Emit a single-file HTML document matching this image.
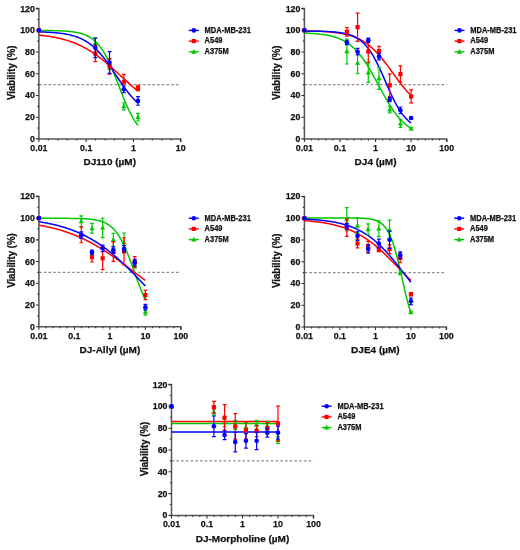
<!DOCTYPE html>
<html><head><meta charset="utf-8"><style>
html,body{margin:0;padding:0;background:#fff;}
body{width:520px;height:550px;overflow:hidden;}
svg{display:block;filter:blur(0.35px);}
text{font-family:"Liberation Sans",sans-serif;font-weight:bold;fill:#111;stroke:#111;stroke-width:0.25px;}
.tk{font-size:9.5px;}
.tt{font-size:10px;}
.xt{font-size:9.8px;}
.lg{font-size:8.6px;}
</style></head><body>
<svg width="520" height="550" viewBox="0 0 520 550">
<rect width="520" height="550" fill="#fff"/>
<line x1="39.10" y1="84.61" x2="180.70" y2="84.61" stroke="#8a8a8a" stroke-width="1.3" stroke-dasharray="2.6,2.12"/>
<path d="M35.90,8.60H38.90V138.90H180.70V141.90" fill="none" stroke="#555" stroke-width="1.5"/>
<path d="M35.90,138.90H38.90M37.30,128.04H38.90M35.90,117.18H38.90M37.30,106.33H38.90M35.90,95.47H38.90M37.30,84.61H38.90M35.90,73.75H38.90M37.30,62.89H38.90M35.90,52.03H38.90M37.30,41.17H38.90M35.90,30.32H38.90M37.30,19.46H38.90M35.90,8.60H38.90M38.90,138.90V141.90M48.35,138.90V140.50M57.81,138.90V140.50M67.26,138.90V140.50M76.71,138.90V140.50M86.17,138.90V141.90M95.62,138.90V140.50M105.07,138.90V140.50M114.53,138.90V140.50M123.98,138.90V140.50M133.43,138.90V141.90M142.89,138.90V140.50M152.34,138.90V140.50M161.79,138.90V140.50M171.25,138.90V140.50M180.70,138.90V141.90" fill="none" stroke="#333333" stroke-width="1.1"/>
<text x="34.90" y="141.85" text-anchor="end" class="tk" textLength="4.91" lengthAdjust="spacingAndGlyphs">0</text>
<text x="34.90" y="120.13" text-anchor="end" class="tk" textLength="9.83" lengthAdjust="spacingAndGlyphs">20</text>
<text x="34.90" y="98.42" text-anchor="end" class="tk" textLength="9.83" lengthAdjust="spacingAndGlyphs">40</text>
<text x="34.90" y="76.70" text-anchor="end" class="tk" textLength="9.83" lengthAdjust="spacingAndGlyphs">60</text>
<text x="34.90" y="54.98" text-anchor="end" class="tk" textLength="9.83" lengthAdjust="spacingAndGlyphs">80</text>
<text x="34.90" y="33.27" text-anchor="end" class="tk" textLength="14.74" lengthAdjust="spacingAndGlyphs">100</text>
<text x="34.90" y="11.55" text-anchor="end" class="tk" textLength="14.74" lengthAdjust="spacingAndGlyphs">120</text>
<text x="38.90" y="150.80" text-anchor="middle" class="tk" textLength="17.19" lengthAdjust="spacingAndGlyphs">0.01</text>
<text x="86.17" y="150.80" text-anchor="middle" class="tk" textLength="12.28" lengthAdjust="spacingAndGlyphs">0.1</text>
<text x="133.43" y="150.80" text-anchor="middle" class="tk" textLength="4.91" lengthAdjust="spacingAndGlyphs">1</text>
<text x="180.70" y="150.80" text-anchor="middle" class="tk" textLength="9.83" lengthAdjust="spacingAndGlyphs">10</text>
<text x="109.80" y="165.30" text-anchor="middle" class="xt" textLength="52.44" lengthAdjust="spacingAndGlyphs">DJ110 (µM)</text>
<text transform="translate(14.90,72.75) rotate(-90)" x="0" y="0" text-anchor="middle" class="tt" textLength="54.6" lengthAdjust="spacingAndGlyphs">Viability (%)</text>
<polyline points="38.90,30.45 39.73,30.46 40.55,30.46 41.38,30.47 42.20,30.48 43.03,30.48 43.86,30.49 44.68,30.50 45.51,30.51 46.33,30.52 47.16,30.53 47.99,30.54 48.81,30.55 49.64,30.56 50.46,30.57 51.29,30.59 52.12,30.61 52.94,30.62 53.77,30.64 54.59,30.66 55.42,30.68 56.24,30.71 57.07,30.73 57.90,30.76 58.72,30.79 59.55,30.82 60.37,30.85 61.20,30.89 62.03,30.93 62.85,30.97 63.68,31.02 64.50,31.07 65.33,31.12 66.16,31.18 66.98,31.24 67.81,31.31 68.63,31.38 69.46,31.46 70.29,31.55 71.11,31.64 71.94,31.74 72.76,31.85 73.59,31.96 74.42,32.09 75.24,32.22 76.07,32.37 76.89,32.52 77.72,32.69 78.55,32.87 79.37,33.07 80.20,33.28 81.02,33.50 81.85,33.74 82.68,34.01 83.50,34.29 84.33,34.59 85.15,34.91 85.98,35.26 86.81,35.63 87.63,36.03 88.46,36.46 89.28,36.93 90.11,37.42 90.93,37.95 91.76,38.51 92.59,39.11 93.41,39.76 94.24,40.44 95.06,41.17 95.89,41.95 96.72,42.78 97.54,43.66 98.37,44.59 99.19,45.58 100.02,46.62 100.85,47.72 101.67,48.89 102.50,50.11 103.32,51.40 104.15,52.75 104.98,54.17 105.80,55.65 106.63,57.19 107.45,58.80 108.28,60.46 109.11,62.19 109.93,63.98 110.76,65.82 111.58,67.71 112.41,69.65 113.24,71.64 114.06,73.67 114.89,75.73 115.71,77.82 116.54,79.93 117.37,82.06 118.19,84.20 119.02,86.35 119.84,88.49 120.67,90.63 121.49,92.75 122.32,94.85 123.15,96.93 123.97,98.97 124.80,100.97 125.62,102.94 126.45,104.85 127.28,106.72 128.10,108.53 128.93,110.29 129.75,111.98 130.58,113.62 131.41,115.19 132.23,116.70 133.06,118.15 133.88,119.53 134.71,120.85 135.54,122.10 136.36,123.29 137.19,124.43 138.01,125.50" fill="none" stroke="#00c800" stroke-width="1.5"/>
<polyline points="38.90,35.10 39.73,35.19 40.55,35.28 41.38,35.37 42.20,35.46 43.03,35.56 43.86,35.67 44.68,35.77 45.51,35.88 46.33,35.99 47.16,36.11 47.99,36.23 48.81,36.35 49.64,36.48 50.46,36.62 51.29,36.75 52.12,36.90 52.94,37.04 53.77,37.19 54.59,37.35 55.42,37.51 56.24,37.68 57.07,37.85 57.90,38.03 58.72,38.21 59.55,38.40 60.37,38.59 61.20,38.79 62.03,39.00 62.85,39.21 63.68,39.43 64.50,39.66 65.33,39.90 66.16,40.14 66.98,40.38 67.81,40.64 68.63,40.90 69.46,41.17 70.29,41.45 71.11,41.74 71.94,42.03 72.76,42.34 73.59,42.65 74.42,42.97 75.24,43.30 76.07,43.64 76.89,43.98 77.72,44.34 78.55,44.71 79.37,45.08 80.20,45.47 81.02,45.86 81.85,46.27 82.68,46.68 83.50,47.11 84.33,47.54 85.15,47.99 85.98,48.45 86.81,48.91 87.63,49.39 88.46,49.88 89.28,50.38 90.11,50.88 90.93,51.40 91.76,51.93 92.59,52.47 93.41,53.02 94.24,53.59 95.06,54.16 95.89,54.74 96.72,55.33 97.54,55.93 98.37,56.54 99.19,57.17 100.02,57.80 100.85,58.44 101.67,59.09 102.50,59.75 103.32,60.41 104.15,61.09 104.98,61.77 105.80,62.47 106.63,63.17 107.45,63.87 108.28,64.59 109.11,65.31 109.93,66.03 110.76,66.77 111.58,67.50 112.41,68.25 113.24,68.99 114.06,69.74 114.89,70.50 115.71,71.25 116.54,72.01 117.37,72.78 118.19,73.54 119.02,74.31 119.84,75.07 120.67,75.84 121.49,76.60 122.32,77.37 123.15,78.13 123.97,78.89 124.80,79.65 125.62,80.41 126.45,81.17 127.28,81.92 128.10,82.66 128.93,83.40 129.75,84.14 130.58,84.87 131.41,85.60 132.23,86.32 133.06,87.03 133.88,87.74 134.71,88.44 135.54,89.13 136.36,89.81 137.19,90.48 138.01,91.15" fill="none" stroke="#ff0000" stroke-width="1.5"/>
<polyline points="38.90,31.84 39.73,31.87 40.55,31.89 41.38,31.92 42.20,31.95 43.03,31.98 43.86,32.01 44.68,32.05 45.51,32.09 46.33,32.13 47.16,32.17 47.99,32.21 48.81,32.26 49.64,32.31 50.46,32.36 51.29,32.41 52.12,32.47 52.94,32.53 53.77,32.60 54.59,32.67 55.42,32.74 56.24,32.82 57.07,32.90 57.90,32.98 58.72,33.07 59.55,33.17 60.37,33.27 61.20,33.38 62.03,33.49 62.85,33.61 63.68,33.73 64.50,33.86 65.33,34.00 66.16,34.15 66.98,34.31 67.81,34.47 68.63,34.64 69.46,34.83 70.29,35.02 71.11,35.22 71.94,35.43 72.76,35.66 73.59,35.89 74.42,36.14 75.24,36.40 76.07,36.68 76.89,36.97 77.72,37.27 78.55,37.59 79.37,37.92 80.20,38.28 81.02,38.65 81.85,39.03 82.68,39.44 83.50,39.86 84.33,40.31 85.15,40.77 85.98,41.26 86.81,41.77 87.63,42.30 88.46,42.86 89.28,43.43 90.11,44.04 90.93,44.66 91.76,45.32 92.59,46.00 93.41,46.70 94.24,47.43 95.06,48.19 95.89,48.98 96.72,49.79 97.54,50.63 98.37,51.50 99.19,52.39 100.02,53.31 100.85,54.26 101.67,55.23 102.50,56.23 103.32,57.26 104.15,58.31 104.98,59.38 105.80,60.47 106.63,61.59 107.45,62.72 108.28,63.87 109.11,65.04 109.93,66.23 110.76,67.43 111.58,68.64 112.41,69.86 113.24,71.09 114.06,72.32 114.89,73.57 115.71,74.81 116.54,76.05 117.37,77.29 118.19,78.53 119.02,79.76 119.84,80.99 120.67,82.20 121.49,83.41 122.32,84.60 123.15,85.77 123.97,86.94 124.80,88.08 125.62,89.20 126.45,90.30 127.28,91.38 128.10,92.44 128.93,93.48 129.75,94.49 130.58,95.47 131.41,96.43 132.23,97.36 133.06,98.27 133.88,99.15 134.71,100.00 135.54,100.82 136.36,101.62 137.19,102.39 138.01,103.13" fill="none" stroke="#0000ff" stroke-width="1.5"/>
<path d="M38.90,27.56L41.50,32.16L36.30,32.16Z" fill="#00c800"/>
<path d="M95.33,37.92V48.78M93.43,37.92h3.8M93.43,48.78h3.8" stroke="#00c800" stroke-width="1.2" fill="none"/>
<path d="M95.33,40.59L97.93,45.19L92.73,45.19Z" fill="#00c800"/>
<path d="M109.56,58.55V69.41M107.66,58.55h3.8M107.66,69.41h3.8" stroke="#00c800" stroke-width="1.2" fill="none"/>
<path d="M109.56,61.22L112.16,65.82L106.96,65.82Z" fill="#00c800"/>
<path d="M123.79,102.74V109.91M121.89,102.74h3.8M121.89,109.91h3.8" stroke="#00c800" stroke-width="1.2" fill="none"/>
<path d="M123.79,103.56L126.39,108.17L121.19,108.17Z" fill="#00c800"/>
<path d="M138.01,113.38V120.98M136.11,113.38h3.8M136.11,120.98h3.8" stroke="#00c800" stroke-width="1.2" fill="none"/>
<path d="M138.01,114.42L140.61,119.02L135.41,119.02Z" fill="#00c800"/>
<rect x="36.80" y="28.22" width="4.2" height="4.2" fill="#ff0000"/>
<path d="M95.33,45.41V61.70M93.43,45.41h3.8M93.43,61.70h3.8" stroke="#ff0000" stroke-width="1.2" fill="none"/>
<rect x="93.23" y="51.45" width="4.2" height="4.2" fill="#ff0000"/>
<path d="M109.56,58.87V74.08M107.66,58.87h3.8M107.66,74.08h3.8" stroke="#ff0000" stroke-width="1.2" fill="none"/>
<rect x="107.46" y="64.37" width="4.2" height="4.2" fill="#ff0000"/>
<path d="M123.79,74.29V89.49M121.89,74.29h3.8M121.89,89.49h3.8" stroke="#ff0000" stroke-width="1.2" fill="none"/>
<rect x="121.69" y="79.79" width="4.2" height="4.2" fill="#ff0000"/>
<path d="M138.01,85.26V90.69M136.11,85.26h3.8M136.11,90.69h3.8" stroke="#ff0000" stroke-width="1.2" fill="none"/>
<rect x="135.91" y="85.87" width="4.2" height="4.2" fill="#ff0000"/>
<circle cx="38.90" cy="30.32" r="2.3" fill="#0000ff"/>
<path d="M95.33,38.03V57.57M93.43,38.03h3.8M93.43,57.57h3.8" stroke="#0000ff" stroke-width="1.2" fill="none"/>
<circle cx="95.33" cy="47.80" r="2.3" fill="#0000ff"/>
<path d="M109.56,51.60V73.32M107.66,51.60h3.8M107.66,73.32h3.8" stroke="#0000ff" stroke-width="1.2" fill="none"/>
<circle cx="109.56" cy="62.46" r="2.3" fill="#0000ff"/>
<path d="M123.79,86.02V92.53M121.89,86.02h3.8M121.89,92.53h3.8" stroke="#0000ff" stroke-width="1.2" fill="none"/>
<circle cx="123.79" cy="89.28" r="2.3" fill="#0000ff"/>
<path d="M138.01,96.55V105.24M136.11,96.55h3.8M136.11,105.24h3.8" stroke="#0000ff" stroke-width="1.2" fill="none"/>
<circle cx="138.01" cy="100.90" r="2.3" fill="#0000ff"/>
<line x1="188.80" y1="30.40" x2="198.80" y2="30.40" stroke="#0000ff" stroke-width="1.4"/>
<circle cx="193.80" cy="30.40" r="2.3" fill="#0000ff"/>
<text x="204.60" y="32.70" class="lg" textLength="46.2" lengthAdjust="spacingAndGlyphs">MDA-MB-231</text>
<line x1="188.80" y1="41.10" x2="198.80" y2="41.10" stroke="#ff0000" stroke-width="1.4"/>
<rect x="191.70" y="39.00" width="4.2" height="4.2" fill="#ff0000"/>
<text x="204.60" y="43.40" class="lg" textLength="17.9" lengthAdjust="spacingAndGlyphs">A549</text>
<line x1="188.80" y1="51.80" x2="198.80" y2="51.80" stroke="#00c800" stroke-width="1.4"/>
<path d="M193.80,49.04L196.40,53.64L191.20,53.64Z" fill="#00c800"/>
<text x="204.60" y="54.10" class="lg" textLength="24.1" lengthAdjust="spacingAndGlyphs">A375M</text>
<line x1="304.60" y1="84.61" x2="446.70" y2="84.61" stroke="#8a8a8a" stroke-width="1.3" stroke-dasharray="2.6,2.12"/>
<path d="M301.40,8.60H304.40V138.90H446.70V141.90" fill="none" stroke="#555" stroke-width="1.5"/>
<path d="M301.40,138.90H304.40M302.80,128.04H304.40M301.40,117.18H304.40M302.80,106.33H304.40M301.40,95.47H304.40M302.80,84.61H304.40M301.40,73.75H304.40M302.80,62.89H304.40M301.40,52.03H304.40M302.80,41.17H304.40M301.40,30.32H304.40M302.80,19.46H304.40M301.40,8.60H304.40M304.40,138.90V141.90M311.51,138.90V140.50M318.63,138.90V140.50M325.75,138.90V140.50M332.86,138.90V140.50M339.97,138.90V141.90M347.09,138.90V140.50M354.20,138.90V140.50M361.32,138.90V140.50M368.43,138.90V140.50M375.55,138.90V141.90M382.66,138.90V140.50M389.78,138.90V140.50M396.89,138.90V140.50M404.01,138.90V140.50M411.12,138.90V141.90M418.24,138.90V140.50M425.36,138.90V140.50M432.47,138.90V140.50M439.58,138.90V140.50M446.70,138.90V141.90" fill="none" stroke="#333333" stroke-width="1.1"/>
<text x="300.40" y="141.85" text-anchor="end" class="tk" textLength="4.91" lengthAdjust="spacingAndGlyphs">0</text>
<text x="300.40" y="120.13" text-anchor="end" class="tk" textLength="9.83" lengthAdjust="spacingAndGlyphs">20</text>
<text x="300.40" y="98.42" text-anchor="end" class="tk" textLength="9.83" lengthAdjust="spacingAndGlyphs">40</text>
<text x="300.40" y="76.70" text-anchor="end" class="tk" textLength="9.83" lengthAdjust="spacingAndGlyphs">60</text>
<text x="300.40" y="54.98" text-anchor="end" class="tk" textLength="9.83" lengthAdjust="spacingAndGlyphs">80</text>
<text x="300.40" y="33.27" text-anchor="end" class="tk" textLength="14.74" lengthAdjust="spacingAndGlyphs">100</text>
<text x="300.40" y="11.55" text-anchor="end" class="tk" textLength="14.74" lengthAdjust="spacingAndGlyphs">120</text>
<text x="304.40" y="150.80" text-anchor="middle" class="tk" textLength="17.19" lengthAdjust="spacingAndGlyphs">0.01</text>
<text x="339.97" y="150.80" text-anchor="middle" class="tk" textLength="12.28" lengthAdjust="spacingAndGlyphs">0.1</text>
<text x="375.55" y="150.80" text-anchor="middle" class="tk" textLength="4.91" lengthAdjust="spacingAndGlyphs">1</text>
<text x="411.12" y="150.80" text-anchor="middle" class="tk" textLength="9.83" lengthAdjust="spacingAndGlyphs">10</text>
<text x="446.70" y="150.80" text-anchor="middle" class="tk" textLength="14.74" lengthAdjust="spacingAndGlyphs">100</text>
<text x="375.55" y="165.30" text-anchor="middle" class="xt" textLength="41.87" lengthAdjust="spacingAndGlyphs">DJ4 (µM)</text>
<text transform="translate(280.40,72.75) rotate(-90)" x="0" y="0" text-anchor="middle" class="tt" textLength="54.6" lengthAdjust="spacingAndGlyphs">Viability (%)</text>
<polyline points="304.40,33.04 305.29,33.08 306.18,33.12 307.07,33.16 307.96,33.20 308.85,33.25 309.74,33.30 310.63,33.35 311.51,33.40 312.40,33.46 313.29,33.52 314.18,33.59 315.07,33.66 315.96,33.73 316.85,33.81 317.74,33.90 318.63,33.99 319.52,34.08 320.41,34.18 321.30,34.29 322.19,34.41 323.08,34.53 323.97,34.66 324.86,34.80 325.75,34.94 326.63,35.10 327.52,35.26 328.41,35.44 329.30,35.62 330.19,35.82 331.08,36.03 331.97,36.25 332.86,36.49 333.75,36.73 334.64,37.00 335.53,37.28 336.42,37.57 337.31,37.89 338.20,38.22 339.09,38.57 339.97,38.94 340.86,39.33 341.75,39.75 342.64,40.18 343.53,40.64 344.42,41.13 345.31,41.64 346.20,42.18 347.09,42.75 347.98,43.35 348.87,43.98 349.76,44.64 350.65,45.33 351.54,46.06 352.43,46.82 353.32,47.62 354.20,48.45 355.09,49.32 355.98,50.23 356.87,51.18 357.76,52.17 358.65,53.20 359.54,54.27 360.43,55.37 361.32,56.52 362.21,57.71 363.10,58.94 363.99,60.21 364.88,61.51 365.77,62.85 366.66,64.23 367.55,65.65 368.44,67.10 369.32,68.57 370.21,70.08 371.10,71.62 371.99,73.18 372.88,74.77 373.77,76.37 374.66,77.99 375.55,79.63 376.44,81.27 377.33,82.93 378.22,84.59 379.11,86.24 380.00,87.90 380.89,89.55 381.78,91.20 382.66,92.83 383.55,94.45 384.44,96.05 385.33,97.63 386.22,99.18 387.11,100.71 388.00,102.21 388.89,103.69 389.78,105.13 390.67,106.53 391.56,107.90 392.45,109.24 393.34,110.53 394.23,111.79 395.12,113.01 396.01,114.19 396.89,115.32 397.78,116.42 398.67,117.48 399.56,118.50 400.45,119.48 401.34,120.42 402.23,121.32 403.12,122.18 404.01,123.00 404.90,123.79 405.79,124.55 406.68,125.26 407.57,125.95 408.46,126.60 409.35,127.22 410.24,127.81 411.12,128.37" fill="none" stroke="#00c800" stroke-width="1.5"/>
<polyline points="304.40,30.83 305.29,30.85 306.18,30.87 307.07,30.88 307.96,30.90 308.85,30.92 309.74,30.94 310.63,30.97 311.51,30.99 312.40,31.01 313.29,31.04 314.18,31.07 315.07,31.10 315.96,31.13 316.85,31.16 317.74,31.20 318.63,31.23 319.52,31.27 320.41,31.31 321.30,31.36 322.19,31.41 323.08,31.45 323.97,31.51 324.86,31.56 325.75,31.62 326.63,31.68 327.52,31.75 328.41,31.82 329.30,31.89 330.19,31.97 331.08,32.05 331.97,32.14 332.86,32.23 333.75,32.33 334.64,32.43 335.53,32.54 336.42,32.65 337.31,32.77 338.20,32.90 339.09,33.04 339.97,33.18 340.86,33.33 341.75,33.49 342.64,33.66 343.53,33.84 344.42,34.02 345.31,34.22 346.20,34.43 347.09,34.65 347.98,34.88 348.87,35.12 349.76,35.38 350.65,35.65 351.54,35.94 352.43,36.24 353.32,36.55 354.20,36.88 355.09,37.23 355.98,37.59 356.87,37.98 357.76,38.38 358.65,38.80 359.54,39.24 360.43,39.71 361.32,40.19 362.21,40.70 363.10,41.23 363.99,41.78 364.88,42.36 365.77,42.96 366.66,43.59 367.55,44.24 368.44,44.92 369.32,45.62 370.21,46.36 371.10,47.12 371.99,47.90 372.88,48.72 373.77,49.56 374.66,50.43 375.55,51.33 376.44,52.25 377.33,53.20 378.22,54.18 379.11,55.18 380.00,56.20 380.89,57.25 381.78,58.33 382.66,59.42 383.55,60.53 384.44,61.67 385.33,62.82 386.22,63.99 387.11,65.17 388.00,66.36 388.89,67.57 389.78,68.78 390.67,70.00 391.56,71.23 392.45,72.45 393.34,73.68 394.23,74.91 395.12,76.13 396.01,77.35 396.89,78.56 397.78,79.77 398.67,80.96 399.56,82.13 400.45,83.30 401.34,84.44 402.23,85.57 403.12,86.68 404.01,87.76 404.90,88.83 405.79,89.87 406.68,90.89 407.57,91.88 408.46,92.85 409.35,93.79 410.24,94.71 411.12,95.59" fill="none" stroke="#ff0000" stroke-width="1.5"/>
<polyline points="304.40,31.12 305.29,31.12 306.18,31.13 307.07,31.13 307.96,31.14 308.85,31.15 309.74,31.15 310.63,31.16 311.51,31.17 312.40,31.18 313.29,31.19 314.18,31.20 315.07,31.22 315.96,31.23 316.85,31.25 317.74,31.26 318.63,31.28 319.52,31.30 320.41,31.32 321.30,31.34 322.19,31.37 323.08,31.39 323.97,31.42 324.86,31.45 325.75,31.49 326.63,31.52 327.52,31.56 328.41,31.60 329.30,31.65 330.19,31.70 331.08,31.75 331.97,31.81 332.86,31.88 333.75,31.95 334.64,32.02 335.53,32.10 336.42,32.19 337.31,32.29 338.20,32.39 339.09,32.50 339.97,32.62 340.86,32.75 341.75,32.89 342.64,33.04 343.53,33.21 344.42,33.39 345.31,33.58 346.20,33.79 347.09,34.01 347.98,34.25 348.87,34.51 349.76,34.80 350.65,35.10 351.54,35.43 352.43,35.78 353.32,36.16 354.20,36.57 355.09,37.01 355.98,37.48 356.87,37.98 357.76,38.53 358.65,39.11 359.54,39.73 360.43,40.40 361.32,41.11 362.21,41.87 363.10,42.68 363.99,43.54 364.88,44.46 365.77,45.43 366.66,46.46 367.55,47.55 368.44,48.70 369.32,49.91 370.21,51.19 371.10,52.53 371.99,53.93 372.88,55.40 373.77,56.93 374.66,58.52 375.55,60.17 376.44,61.88 377.33,63.65 378.22,65.46 379.11,67.32 380.00,69.23 380.89,71.17 381.78,73.15 382.66,75.15 383.55,77.17 384.44,79.21 385.33,81.25 386.22,83.29 387.11,85.33 388.00,87.36 388.89,89.36 389.78,91.34 390.67,93.29 391.56,95.20 392.45,97.07 393.34,98.90 394.23,100.67 395.12,102.39 396.01,104.05 396.89,105.65 397.78,107.19 398.67,108.67 399.56,110.08 400.45,111.43 401.34,112.72 402.23,113.94 403.12,115.10 404.01,116.20 404.90,117.24 405.79,118.22 406.68,119.15 407.57,120.02 408.46,120.84 409.35,121.60 410.24,122.32 411.12,122.99" fill="none" stroke="#0000ff" stroke-width="1.5"/>
<path d="M304.40,27.56L307.00,32.16L301.80,32.16Z" fill="#00c800"/>
<path d="M346.87,39.00V63.98M344.97,39.00h3.8M344.97,63.98h3.8" stroke="#00c800" stroke-width="1.2" fill="none"/>
<path d="M346.87,48.73L349.47,53.33L344.27,53.33Z" fill="#00c800"/>
<path d="M357.58,52.03V73.75M355.68,52.03h3.8M355.68,73.75h3.8" stroke="#00c800" stroke-width="1.2" fill="none"/>
<path d="M357.58,60.13L360.18,64.73L354.98,64.73Z" fill="#00c800"/>
<path d="M368.29,62.89V82.44M366.39,62.89h3.8M366.39,82.44h3.8" stroke="#00c800" stroke-width="1.2" fill="none"/>
<path d="M368.29,69.90L370.89,74.50L365.69,74.50Z" fill="#00c800"/>
<path d="M379.00,67.56V89.28M377.10,67.56h3.8M377.10,89.28h3.8" stroke="#00c800" stroke-width="1.2" fill="none"/>
<path d="M379.00,75.66L381.60,80.26L376.40,80.26Z" fill="#00c800"/>
<path d="M389.71,106.33V112.84M387.81,106.33h3.8M387.81,112.84h3.8" stroke="#00c800" stroke-width="1.2" fill="none"/>
<path d="M389.71,106.82L392.31,111.42L387.11,111.42Z" fill="#00c800"/>
<path d="M400.42,119.90V127.50M398.52,119.90h3.8M398.52,127.50h3.8" stroke="#00c800" stroke-width="1.2" fill="none"/>
<path d="M400.42,120.94L403.02,125.54L397.82,125.54Z" fill="#00c800"/>
<path d="M411.12,127.50V129.67M409.23,127.50h3.8M409.23,129.67h3.8" stroke="#00c800" stroke-width="1.2" fill="none"/>
<path d="M411.12,125.82L413.73,130.42L408.52,130.42Z" fill="#00c800"/>
<rect x="302.30" y="28.22" width="4.2" height="4.2" fill="#ff0000"/>
<path d="M346.87,27.49V36.18M344.97,27.49h3.8M344.97,36.18h3.8" stroke="#ff0000" stroke-width="1.2" fill="none"/>
<rect x="344.77" y="29.74" width="4.2" height="4.2" fill="#ff0000"/>
<path d="M357.58,13.05V41.28M355.68,13.05h3.8M355.68,41.28h3.8" stroke="#ff0000" stroke-width="1.2" fill="none"/>
<rect x="355.48" y="25.07" width="4.2" height="4.2" fill="#ff0000"/>
<path d="M368.29,40.63V62.35M366.39,40.63h3.8M366.39,62.35h3.8" stroke="#ff0000" stroke-width="1.2" fill="none"/>
<rect x="366.19" y="49.39" width="4.2" height="4.2" fill="#ff0000"/>
<path d="M379.00,46.28V56.05M377.10,46.28h3.8M377.10,56.05h3.8" stroke="#ff0000" stroke-width="1.2" fill="none"/>
<rect x="376.90" y="49.06" width="4.2" height="4.2" fill="#ff0000"/>
<path d="M389.71,73.86V96.66M387.81,73.86h3.8M387.81,96.66h3.8" stroke="#ff0000" stroke-width="1.2" fill="none"/>
<rect x="387.61" y="83.16" width="4.2" height="4.2" fill="#ff0000"/>
<path d="M400.42,65.93V82.22M398.52,65.93h3.8M398.52,82.22h3.8" stroke="#ff0000" stroke-width="1.2" fill="none"/>
<rect x="398.32" y="71.98" width="4.2" height="4.2" fill="#ff0000"/>
<path d="M411.12,89.93V102.96M409.23,89.93h3.8M409.23,102.96h3.8" stroke="#ff0000" stroke-width="1.2" fill="none"/>
<rect x="409.02" y="94.34" width="4.2" height="4.2" fill="#ff0000"/>
<circle cx="304.40" cy="30.32" r="2.3" fill="#0000ff"/>
<path d="M346.87,40.31V44.65M344.97,40.31h3.8M344.97,44.65h3.8" stroke="#0000ff" stroke-width="1.2" fill="none"/>
<circle cx="346.87" cy="42.48" r="2.3" fill="#0000ff"/>
<path d="M357.58,48.45V54.97M355.68,48.45h3.8M355.68,54.97h3.8" stroke="#0000ff" stroke-width="1.2" fill="none"/>
<circle cx="357.58" cy="51.71" r="2.3" fill="#0000ff"/>
<path d="M368.29,38.03V42.37M366.39,38.03h3.8M366.39,42.37h3.8" stroke="#0000ff" stroke-width="1.2" fill="none"/>
<circle cx="368.29" cy="40.20" r="2.3" fill="#0000ff"/>
<path d="M379.00,53.34V59.85M377.10,53.34h3.8M377.10,59.85h3.8" stroke="#0000ff" stroke-width="1.2" fill="none"/>
<circle cx="379.00" cy="56.59" r="2.3" fill="#0000ff"/>
<path d="M389.71,97.31V101.66M387.81,97.31h3.8M387.81,101.66h3.8" stroke="#0000ff" stroke-width="1.2" fill="none"/>
<circle cx="389.71" cy="99.48" r="2.3" fill="#0000ff"/>
<path d="M400.42,106.98V113.49M398.52,106.98h3.8M398.52,113.49h3.8" stroke="#0000ff" stroke-width="1.2" fill="none"/>
<circle cx="400.42" cy="110.23" r="2.3" fill="#0000ff"/>
<path d="M411.12,116.86V119.03M409.23,116.86h3.8M409.23,119.03h3.8" stroke="#0000ff" stroke-width="1.2" fill="none"/>
<circle cx="411.12" cy="117.94" r="2.3" fill="#0000ff"/>
<line x1="454.50" y1="30.40" x2="464.50" y2="30.40" stroke="#0000ff" stroke-width="1.4"/>
<circle cx="459.50" cy="30.40" r="2.3" fill="#0000ff"/>
<text x="470.30" y="32.70" class="lg" textLength="46.2" lengthAdjust="spacingAndGlyphs">MDA-MB-231</text>
<line x1="454.50" y1="41.10" x2="464.50" y2="41.10" stroke="#ff0000" stroke-width="1.4"/>
<rect x="457.40" y="39.00" width="4.2" height="4.2" fill="#ff0000"/>
<text x="470.30" y="43.40" class="lg" textLength="17.9" lengthAdjust="spacingAndGlyphs">A549</text>
<line x1="454.50" y1="51.80" x2="464.50" y2="51.80" stroke="#00c800" stroke-width="1.4"/>
<path d="M459.50,49.04L462.10,53.64L456.90,53.64Z" fill="#00c800"/>
<text x="470.30" y="54.10" class="lg" textLength="24.1" lengthAdjust="spacingAndGlyphs">A375M</text>
<line x1="39.10" y1="272.41" x2="180.90" y2="272.41" stroke="#8a8a8a" stroke-width="1.3" stroke-dasharray="2.6,2.12"/>
<path d="M35.90,196.40H38.90V326.70H180.90V329.70" fill="none" stroke="#555" stroke-width="1.5"/>
<path d="M35.90,326.70H38.90M37.30,315.84H38.90M35.90,304.98H38.90M37.30,294.12H38.90M35.90,283.27H38.90M37.30,272.41H38.90M35.90,261.55H38.90M37.30,250.69H38.90M35.90,239.83H38.90M37.30,228.97H38.90M35.90,218.12H38.90M37.30,207.26H38.90M35.90,196.40H38.90M38.90,326.70V329.70M46.00,326.70V328.30M53.10,326.70V328.30M60.20,326.70V328.30M67.30,326.70V328.30M74.40,326.70V329.70M81.50,326.70V328.30M88.60,326.70V328.30M95.70,326.70V328.30M102.80,326.70V328.30M109.90,326.70V329.70M117.00,326.70V328.30M124.10,326.70V328.30M131.20,326.70V328.30M138.30,326.70V328.30M145.40,326.70V329.70M152.50,326.70V328.30M159.60,326.70V328.30M166.70,326.70V328.30M173.80,326.70V328.30M180.90,326.70V329.70" fill="none" stroke="#333333" stroke-width="1.1"/>
<text x="34.90" y="329.65" text-anchor="end" class="tk" textLength="4.91" lengthAdjust="spacingAndGlyphs">0</text>
<text x="34.90" y="307.93" text-anchor="end" class="tk" textLength="9.83" lengthAdjust="spacingAndGlyphs">20</text>
<text x="34.90" y="286.22" text-anchor="end" class="tk" textLength="9.83" lengthAdjust="spacingAndGlyphs">40</text>
<text x="34.90" y="264.50" text-anchor="end" class="tk" textLength="9.83" lengthAdjust="spacingAndGlyphs">60</text>
<text x="34.90" y="242.78" text-anchor="end" class="tk" textLength="9.83" lengthAdjust="spacingAndGlyphs">80</text>
<text x="34.90" y="221.07" text-anchor="end" class="tk" textLength="14.74" lengthAdjust="spacingAndGlyphs">100</text>
<text x="34.90" y="199.35" text-anchor="end" class="tk" textLength="14.74" lengthAdjust="spacingAndGlyphs">120</text>
<text x="38.90" y="338.60" text-anchor="middle" class="tk" textLength="17.19" lengthAdjust="spacingAndGlyphs">0.01</text>
<text x="74.40" y="338.60" text-anchor="middle" class="tk" textLength="12.28" lengthAdjust="spacingAndGlyphs">0.1</text>
<text x="109.90" y="338.60" text-anchor="middle" class="tk" textLength="4.91" lengthAdjust="spacingAndGlyphs">1</text>
<text x="145.40" y="338.60" text-anchor="middle" class="tk" textLength="9.83" lengthAdjust="spacingAndGlyphs">10</text>
<text x="180.90" y="338.60" text-anchor="middle" class="tk" textLength="14.74" lengthAdjust="spacingAndGlyphs">100</text>
<text x="109.90" y="353.10" text-anchor="middle" class="xt" textLength="60.76" lengthAdjust="spacingAndGlyphs">DJ-Allyl (µM)</text>
<text transform="translate(14.90,260.55) rotate(-90)" x="0" y="0" text-anchor="middle" class="tt" textLength="54.6" lengthAdjust="spacingAndGlyphs">Viability (%)</text>
<polyline points="38.90,218.25 39.79,218.25 40.67,218.25 41.56,218.25 42.45,218.25 43.34,218.25 44.22,218.26 45.11,218.26 46.00,218.26 46.89,218.26 47.77,218.26 48.66,218.26 49.55,218.26 50.44,218.26 51.33,218.26 52.21,218.27 53.10,218.27 53.99,218.27 54.88,218.27 55.76,218.27 56.65,218.28 57.54,218.28 58.42,218.28 59.31,218.29 60.20,218.29 61.09,218.29 61.97,218.30 62.86,218.30 63.75,218.31 64.64,218.31 65.53,218.32 66.41,218.33 67.30,218.34 68.19,218.34 69.08,218.35 69.96,218.36 70.85,218.38 71.74,218.39 72.62,218.40 73.51,218.42 74.40,218.43 75.29,218.45 76.17,218.47 77.06,218.49 77.95,218.52 78.84,218.55 79.72,218.57 80.61,218.61 81.50,218.64 82.39,218.68 83.28,218.72 84.16,218.77 85.05,218.82 85.94,218.88 86.83,218.94 87.71,219.01 88.60,219.08 89.49,219.16 90.38,219.25 91.26,219.35 92.15,219.46 93.04,219.58 93.92,219.71 94.81,219.85 95.70,220.01 96.59,220.18 97.47,220.36 98.36,220.57 99.25,220.79 100.14,221.04 101.03,221.31 101.91,221.60 102.80,221.92 103.69,222.27 104.57,222.65 105.46,223.06 106.35,223.52 107.24,224.01 108.12,224.54 109.01,225.13 109.90,225.76 110.79,226.44 111.67,227.18 112.56,227.99 113.45,228.85 114.34,229.79 115.22,230.79 116.11,231.88 117.00,233.03 117.89,234.28 118.78,235.60 119.66,237.01 120.55,238.51 121.44,240.10 122.32,241.78 123.21,243.56 124.10,245.42 124.99,247.37 125.88,249.40 126.76,251.51 127.65,253.70 128.54,255.96 129.42,258.28 130.31,260.65 131.20,263.07 132.09,265.53 132.97,268.01 133.86,270.50 134.75,273.00 135.64,275.49 136.53,277.96 137.41,280.40 138.30,282.81 139.19,285.16 140.07,287.46 140.96,289.69 141.85,291.85 142.74,293.93 143.62,295.93 144.51,297.84 145.40,299.67" fill="none" stroke="#00c800" stroke-width="1.5"/>
<polyline points="38.90,225.16 39.79,225.31 40.67,225.48 41.56,225.64 42.45,225.81 43.34,225.98 44.22,226.16 45.11,226.34 46.00,226.53 46.89,226.72 47.77,226.91 48.66,227.11 49.55,227.31 50.44,227.52 51.33,227.73 52.21,227.94 53.10,228.16 53.99,228.39 54.88,228.62 55.76,228.85 56.65,229.09 57.54,229.33 58.42,229.58 59.31,229.83 60.20,230.09 61.09,230.36 61.97,230.63 62.86,230.90 63.75,231.18 64.64,231.47 65.53,231.76 66.41,232.06 67.30,232.36 68.19,232.67 69.08,232.99 69.96,233.31 70.85,233.63 71.74,233.96 72.62,234.30 73.51,234.65 74.40,235.00 75.29,235.36 76.17,235.72 77.06,236.09 77.95,236.47 78.84,236.85 79.72,237.24 80.61,237.63 81.50,238.04 82.39,238.45 83.28,238.86 84.16,239.28 85.05,239.71 85.94,240.15 86.83,240.59 87.71,241.04 88.60,241.49 89.49,241.95 90.38,242.42 91.26,242.90 92.15,243.38 93.04,243.86 93.92,244.36 94.81,244.86 95.70,245.37 96.59,245.88 97.47,246.40 98.36,246.93 99.25,247.46 100.14,248.00 101.03,248.54 101.91,249.10 102.80,249.65 103.69,250.22 104.57,250.78 105.46,251.36 106.35,251.94 107.24,252.52 108.12,253.11 109.01,253.71 109.90,254.31 110.79,254.92 111.67,255.53 112.56,256.14 113.45,256.76 114.34,257.38 115.22,258.01 116.11,258.64 117.00,259.28 117.89,259.92 118.78,260.56 119.66,261.21 120.55,261.86 121.44,262.51 122.32,263.16 123.21,263.82 124.10,264.48 124.99,265.14 125.88,265.81 126.76,266.47 127.65,267.14 128.54,267.81 129.42,268.48 130.31,269.15 131.20,269.82 132.09,270.49 132.97,271.16 133.86,271.83 134.75,272.50 135.64,273.17 136.53,273.84 137.41,274.51 138.30,275.17 139.19,275.84 140.07,276.50 140.96,277.17 141.85,277.83 142.74,278.48 143.62,279.14 144.51,279.79 145.40,280.44" fill="none" stroke="#ff0000" stroke-width="1.5"/>
<polyline points="38.90,221.74 39.79,221.87 40.67,222.02 41.56,222.16 42.45,222.31 43.34,222.46 44.22,222.62 45.11,222.78 46.00,222.95 46.89,223.11 47.77,223.29 48.66,223.46 49.55,223.65 50.44,223.83 51.33,224.02 52.21,224.22 53.10,224.42 53.99,224.62 54.88,224.83 55.76,225.05 56.65,225.27 57.54,225.49 58.42,225.73 59.31,225.96 60.20,226.20 61.09,226.45 61.97,226.71 62.86,226.96 63.75,227.23 64.64,227.50 65.53,227.78 66.41,228.06 67.30,228.36 68.19,228.65 69.08,228.96 69.96,229.27 70.85,229.59 71.74,229.91 72.62,230.24 73.51,230.58 74.40,230.93 75.29,231.28 76.17,231.65 77.06,232.02 77.95,232.39 78.84,232.78 79.72,233.17 80.61,233.57 81.50,233.98 82.39,234.40 83.28,234.83 84.16,235.27 85.05,235.71 85.94,236.16 86.83,236.62 87.71,237.10 88.60,237.58 89.49,238.06 90.38,238.56 91.26,239.07 92.15,239.59 93.04,240.11 93.92,240.65 94.81,241.19 95.70,241.75 96.59,242.31 97.47,242.88 98.36,243.47 99.25,244.06 100.14,244.66 101.03,245.27 101.91,245.90 102.80,246.53 103.69,247.17 104.57,247.82 105.46,248.48 106.35,249.15 107.24,249.83 108.12,250.52 109.01,251.22 109.90,251.93 110.79,252.64 111.67,253.37 112.56,254.11 113.45,254.85 114.34,255.60 115.22,256.37 116.11,257.14 117.00,257.92 117.89,258.70 118.78,259.50 119.66,260.30 120.55,261.12 121.44,261.93 122.32,262.76 123.21,263.60 124.10,264.44 124.99,265.28 125.88,266.14 126.76,267.00 127.65,267.87 128.54,268.74 129.42,269.62 130.31,270.50 131.20,271.39 132.09,272.28 132.97,273.18 133.86,274.08 134.75,274.99 135.64,275.90 136.53,276.81 137.41,277.72 138.30,278.64 139.19,279.56 140.07,280.48 140.96,281.40 141.85,282.33 142.74,283.25 143.62,284.18 144.51,285.10 145.40,286.03" fill="none" stroke="#0000ff" stroke-width="1.5"/>
<path d="M38.90,215.36L41.50,219.96L36.30,219.96Z" fill="#00c800"/>
<path d="M81.28,215.94V226.80M79.38,215.94h3.8M79.38,226.80h3.8" stroke="#00c800" stroke-width="1.2" fill="none"/>
<path d="M81.28,218.61L83.88,223.21L78.68,223.21Z" fill="#00c800"/>
<path d="M91.97,223.44V233.21M90.07,223.44h3.8M90.07,233.21h3.8" stroke="#00c800" stroke-width="1.2" fill="none"/>
<path d="M91.97,225.56L94.57,230.16L89.37,230.16Z" fill="#00c800"/>
<path d="M102.65,218.01V237.55M100.75,218.01h3.8M100.75,237.55h3.8" stroke="#00c800" stroke-width="1.2" fill="none"/>
<path d="M102.65,225.02L105.25,229.62L100.05,229.62Z" fill="#00c800"/>
<path d="M113.34,233.32V246.35M111.44,233.32h3.8M111.44,246.35h3.8" stroke="#00c800" stroke-width="1.2" fill="none"/>
<path d="M113.34,237.07L115.94,241.67L110.74,241.67Z" fill="#00c800"/>
<path d="M124.03,232.99V252.54M122.13,232.99h3.8M122.13,252.54h3.8" stroke="#00c800" stroke-width="1.2" fill="none"/>
<path d="M124.03,240.01L126.63,244.61L121.43,244.61Z" fill="#00c800"/>
<path d="M134.71,261.44V267.96M132.81,261.44h3.8M132.81,267.96h3.8" stroke="#00c800" stroke-width="1.2" fill="none"/>
<path d="M134.71,261.94L137.31,266.54L132.11,266.54Z" fill="#00c800"/>
<path d="M145.40,308.68V315.19M143.50,308.68h3.8M143.50,315.19h3.8" stroke="#00c800" stroke-width="1.2" fill="none"/>
<path d="M145.40,309.17L148.00,313.77L142.80,313.77Z" fill="#00c800"/>
<rect x="36.80" y="216.02" width="4.2" height="4.2" fill="#ff0000"/>
<path d="M81.28,226.91V242.77M79.38,226.91h3.8M79.38,242.77h3.8" stroke="#ff0000" stroke-width="1.2" fill="none"/>
<rect x="79.18" y="232.74" width="4.2" height="4.2" fill="#ff0000"/>
<path d="M91.97,252.43V261.98M90.07,252.43h3.8M90.07,261.98h3.8" stroke="#ff0000" stroke-width="1.2" fill="none"/>
<rect x="89.87" y="255.11" width="4.2" height="4.2" fill="#ff0000"/>
<path d="M102.65,246.89V269.69M100.75,246.89h3.8M100.75,269.69h3.8" stroke="#ff0000" stroke-width="1.2" fill="none"/>
<rect x="100.55" y="256.19" width="4.2" height="4.2" fill="#ff0000"/>
<path d="M113.34,241.79V261.33M111.44,241.79h3.8M111.44,261.33h3.8" stroke="#ff0000" stroke-width="1.2" fill="none"/>
<rect x="111.24" y="249.46" width="4.2" height="4.2" fill="#ff0000"/>
<path d="M124.03,237.77V264.92M122.13,237.77h3.8M122.13,264.92h3.8" stroke="#ff0000" stroke-width="1.2" fill="none"/>
<rect x="121.93" y="249.24" width="4.2" height="4.2" fill="#ff0000"/>
<path d="M134.71,256.66V267.52M132.81,256.66h3.8M132.81,267.52h3.8" stroke="#ff0000" stroke-width="1.2" fill="none"/>
<rect x="132.61" y="259.99" width="4.2" height="4.2" fill="#ff0000"/>
<path d="M145.40,290.43V299.55M143.50,290.43h3.8M143.50,299.55h3.8" stroke="#ff0000" stroke-width="1.2" fill="none"/>
<rect x="143.30" y="292.89" width="4.2" height="4.2" fill="#ff0000"/>
<circle cx="38.90" cy="218.12" r="2.3" fill="#0000ff"/>
<path d="M81.28,231.91V238.42M79.38,231.91h3.8M79.38,238.42h3.8" stroke="#0000ff" stroke-width="1.2" fill="none"/>
<circle cx="81.28" cy="235.16" r="2.3" fill="#0000ff"/>
<path d="M91.97,250.15V254.49M90.07,250.15h3.8M90.07,254.49h3.8" stroke="#0000ff" stroke-width="1.2" fill="none"/>
<circle cx="91.97" cy="252.32" r="2.3" fill="#0000ff"/>
<path d="M102.65,245.05V251.56M100.75,245.05h3.8M100.75,251.56h3.8" stroke="#0000ff" stroke-width="1.2" fill="none"/>
<circle cx="102.65" cy="248.30" r="2.3" fill="#0000ff"/>
<path d="M113.34,246.89V253.41M111.44,246.89h3.8M111.44,253.41h3.8" stroke="#0000ff" stroke-width="1.2" fill="none"/>
<circle cx="113.34" cy="250.15" r="2.3" fill="#0000ff"/>
<path d="M124.03,245.48V251.99M122.13,245.48h3.8M122.13,251.99h3.8" stroke="#0000ff" stroke-width="1.2" fill="none"/>
<circle cx="124.03" cy="248.74" r="2.3" fill="#0000ff"/>
<path d="M134.71,259.38V265.89M132.81,259.38h3.8M132.81,265.89h3.8" stroke="#0000ff" stroke-width="1.2" fill="none"/>
<circle cx="134.71" cy="262.64" r="2.3" fill="#0000ff"/>
<path d="M145.40,304.33V310.20M143.50,304.33h3.8M143.50,310.20h3.8" stroke="#0000ff" stroke-width="1.2" fill="none"/>
<circle cx="145.40" cy="307.26" r="2.3" fill="#0000ff"/>
<line x1="188.80" y1="218.20" x2="198.80" y2="218.20" stroke="#0000ff" stroke-width="1.4"/>
<circle cx="193.80" cy="218.20" r="2.3" fill="#0000ff"/>
<text x="204.60" y="220.50" class="lg" textLength="46.2" lengthAdjust="spacingAndGlyphs">MDA-MB-231</text>
<line x1="188.80" y1="228.90" x2="198.80" y2="228.90" stroke="#ff0000" stroke-width="1.4"/>
<rect x="191.70" y="226.80" width="4.2" height="4.2" fill="#ff0000"/>
<text x="204.60" y="231.20" class="lg" textLength="17.9" lengthAdjust="spacingAndGlyphs">A549</text>
<line x1="188.80" y1="239.60" x2="198.80" y2="239.60" stroke="#00c800" stroke-width="1.4"/>
<path d="M193.80,236.84L196.40,241.44L191.20,241.44Z" fill="#00c800"/>
<text x="204.60" y="241.90" class="lg" textLength="24.1" lengthAdjust="spacingAndGlyphs">A375M</text>
<line x1="304.60" y1="272.62" x2="446.40" y2="272.62" stroke="#8a8a8a" stroke-width="1.3" stroke-dasharray="2.6,2.12"/>
<path d="M301.40,196.50H304.40V327.00H446.40V330.00" fill="none" stroke="#555" stroke-width="1.5"/>
<path d="M301.40,327.00H304.40M302.80,316.12H304.40M301.40,305.25H304.40M302.80,294.38H304.40M301.40,283.50H304.40M302.80,272.62H304.40M301.40,261.75H304.40M302.80,250.88H304.40M301.40,240.00H304.40M302.80,229.12H304.40M301.40,218.25H304.40M302.80,207.38H304.40M301.40,196.50H304.40M304.40,327.00V330.00M311.50,327.00V328.60M318.60,327.00V328.60M325.70,327.00V328.60M332.80,327.00V328.60M339.90,327.00V330.00M347.00,327.00V328.60M354.10,327.00V328.60M361.20,327.00V328.60M368.30,327.00V328.60M375.40,327.00V330.00M382.50,327.00V328.60M389.60,327.00V328.60M396.70,327.00V328.60M403.80,327.00V328.60M410.90,327.00V330.00M418.00,327.00V328.60M425.10,327.00V328.60M432.20,327.00V328.60M439.30,327.00V328.60M446.40,327.00V330.00" fill="none" stroke="#333333" stroke-width="1.1"/>
<text x="300.40" y="329.95" text-anchor="end" class="tk" textLength="4.91" lengthAdjust="spacingAndGlyphs">0</text>
<text x="300.40" y="308.20" text-anchor="end" class="tk" textLength="9.83" lengthAdjust="spacingAndGlyphs">20</text>
<text x="300.40" y="286.45" text-anchor="end" class="tk" textLength="9.83" lengthAdjust="spacingAndGlyphs">40</text>
<text x="300.40" y="264.70" text-anchor="end" class="tk" textLength="9.83" lengthAdjust="spacingAndGlyphs">60</text>
<text x="300.40" y="242.95" text-anchor="end" class="tk" textLength="9.83" lengthAdjust="spacingAndGlyphs">80</text>
<text x="300.40" y="221.20" text-anchor="end" class="tk" textLength="14.74" lengthAdjust="spacingAndGlyphs">100</text>
<text x="300.40" y="199.45" text-anchor="end" class="tk" textLength="14.74" lengthAdjust="spacingAndGlyphs">120</text>
<text x="304.40" y="338.90" text-anchor="middle" class="tk" textLength="17.19" lengthAdjust="spacingAndGlyphs">0.01</text>
<text x="339.90" y="338.90" text-anchor="middle" class="tk" textLength="12.28" lengthAdjust="spacingAndGlyphs">0.1</text>
<text x="375.40" y="338.90" text-anchor="middle" class="tk" textLength="4.91" lengthAdjust="spacingAndGlyphs">1</text>
<text x="410.90" y="338.90" text-anchor="middle" class="tk" textLength="9.83" lengthAdjust="spacingAndGlyphs">10</text>
<text x="446.40" y="338.90" text-anchor="middle" class="tk" textLength="14.74" lengthAdjust="spacingAndGlyphs">100</text>
<text x="375.40" y="353.40" text-anchor="middle" class="xt" textLength="48.54" lengthAdjust="spacingAndGlyphs">DJE4 (µM)</text>
<text transform="translate(280.40,260.75) rotate(-90)" x="0" y="0" text-anchor="middle" class="tt" textLength="54.6" lengthAdjust="spacingAndGlyphs">Viability (%)</text>
<polyline points="304.40,217.88 305.29,217.88 306.17,217.88 307.06,217.88 307.95,217.88 308.84,217.88 309.72,217.88 310.61,217.88 311.50,217.88 312.39,217.88 313.27,217.88 314.16,217.88 315.05,217.88 315.94,217.88 316.82,217.88 317.71,217.88 318.60,217.88 319.49,217.88 320.38,217.88 321.26,217.88 322.15,217.88 323.04,217.88 323.92,217.88 324.81,217.88 325.70,217.88 326.59,217.88 327.47,217.88 328.36,217.88 329.25,217.88 330.14,217.88 331.02,217.88 331.91,217.88 332.80,217.88 333.69,217.89 334.57,217.89 335.46,217.89 336.35,217.89 337.24,217.89 338.12,217.89 339.01,217.89 339.90,217.89 340.79,217.90 341.67,217.90 342.56,217.90 343.45,217.90 344.34,217.91 345.22,217.91 346.11,217.91 347.00,217.92 347.89,217.92 348.77,217.93 349.66,217.94 350.55,217.94 351.44,217.95 352.32,217.96 353.21,217.97 354.10,217.99 354.99,218.00 355.88,218.02 356.76,218.04 357.65,218.06 358.54,218.09 359.42,218.11 360.31,218.15 361.20,218.18 362.09,218.22 362.97,218.27 363.86,218.33 364.75,218.39 365.64,218.46 366.52,218.54 367.41,218.63 368.30,218.73 369.19,218.85 370.07,218.98 370.96,219.14 371.85,219.31 372.74,219.50 373.62,219.72 374.51,219.98 375.40,220.26 376.29,220.58 377.17,220.95 378.06,221.36 378.95,221.83 379.84,222.36 380.72,222.95 381.61,223.62 382.50,224.38 383.39,225.23 384.27,226.18 385.16,227.24 386.05,228.42 386.94,229.74 387.82,231.21 388.71,232.83 389.60,234.62 390.49,236.58 391.38,238.73 392.26,241.07 393.15,243.61 394.04,246.34 394.92,249.27 395.81,252.39 396.70,255.69 397.59,259.15 398.47,262.77 399.36,266.50 400.25,270.34 401.14,274.24 402.02,278.18 402.91,282.13 403.80,286.04 404.69,289.90 405.57,293.66 406.46,297.31 407.35,300.81 408.24,304.15 409.12,307.31 410.01,310.29 410.90,313.07" fill="none" stroke="#00c800" stroke-width="1.5"/>
<polyline points="304.40,220.63 305.29,220.70 306.17,220.77 307.06,220.84 307.95,220.92 308.84,220.99 309.72,221.08 310.61,221.16 311.50,221.25 312.39,221.34 313.27,221.43 314.16,221.53 315.05,221.63 315.94,221.73 316.82,221.84 317.71,221.95 318.60,222.06 319.49,222.18 320.38,222.31 321.26,222.43 322.15,222.57 323.04,222.70 323.92,222.85 324.81,222.99 325.70,223.14 326.59,223.30 327.47,223.47 328.36,223.63 329.25,223.81 330.14,223.99 331.02,224.18 331.91,224.37 332.80,224.57 333.69,224.77 334.57,224.99 335.46,225.21 336.35,225.43 337.24,225.67 338.12,225.91 339.01,226.16 339.90,226.42 340.79,226.69 341.67,226.96 342.56,227.25 343.45,227.54 344.34,227.84 345.22,228.16 346.11,228.48 347.00,228.81 347.89,229.15 348.77,229.50 349.66,229.86 350.55,230.24 351.44,230.62 352.32,231.02 353.21,231.42 354.10,231.84 354.99,232.27 355.88,232.71 356.76,233.16 357.65,233.63 358.54,234.11 359.42,234.60 360.31,235.10 361.20,235.62 362.09,236.14 362.97,236.69 363.86,237.24 364.75,237.81 365.64,238.39 366.52,238.98 367.41,239.59 368.30,240.21 369.19,240.85 370.07,241.49 370.96,242.16 371.85,242.83 372.74,243.52 373.62,244.22 374.51,244.93 375.40,245.65 376.29,246.39 377.17,247.14 378.06,247.90 378.95,248.68 379.84,249.46 380.72,250.26 381.61,251.06 382.50,251.88 383.39,252.71 384.27,253.55 385.16,254.39 386.05,255.25 386.94,256.11 387.82,256.98 388.71,257.86 389.60,258.74 390.49,259.64 391.38,260.53 392.26,261.43 393.15,262.34 394.04,263.25 394.92,264.16 395.81,265.08 396.70,266.00 397.59,266.92 398.47,267.84 399.36,268.76 400.25,269.68 401.14,270.59 402.02,271.51 402.91,272.42 403.80,273.33 404.69,274.24 405.57,275.14 406.46,276.04 407.35,276.93 408.24,277.82 409.12,278.69 410.01,279.57 410.90,280.43" fill="none" stroke="#ff0000" stroke-width="1.5"/>
<polyline points="304.40,219.05 305.29,219.09 306.17,219.14 307.06,219.19 307.95,219.24 308.84,219.29 309.72,219.34 310.61,219.40 311.50,219.46 312.39,219.52 313.27,219.58 314.16,219.65 315.05,219.72 315.94,219.79 316.82,219.86 317.71,219.94 318.60,220.02 319.49,220.11 320.38,220.19 321.26,220.29 322.15,220.38 323.04,220.48 323.92,220.58 324.81,220.69 325.70,220.80 326.59,220.92 327.47,221.04 328.36,221.16 329.25,221.29 330.14,221.43 331.02,221.57 331.91,221.72 332.80,221.87 333.69,222.03 334.57,222.19 335.46,222.36 336.35,222.54 337.24,222.72 338.12,222.91 339.01,223.11 339.90,223.32 340.79,223.53 341.67,223.76 342.56,223.99 343.45,224.23 344.34,224.47 345.22,224.73 346.11,225.00 347.00,225.28 347.89,225.56 348.77,225.86 349.66,226.17 350.55,226.49 351.44,226.82 352.32,227.16 353.21,227.52 354.10,227.89 354.99,228.27 355.88,228.66 356.76,229.07 357.65,229.49 358.54,229.92 359.42,230.37 360.31,230.83 361.20,231.31 362.09,231.80 362.97,232.31 363.86,232.84 364.75,233.38 365.64,233.93 366.52,234.51 367.41,235.10 368.30,235.71 369.19,236.33 370.07,236.97 370.96,237.63 371.85,238.31 372.74,239.01 373.62,239.72 374.51,240.46 375.40,241.21 376.29,241.98 377.17,242.76 378.06,243.57 378.95,244.39 379.84,245.23 380.72,246.09 381.61,246.97 382.50,247.86 383.39,248.77 384.27,249.70 385.16,250.64 386.05,251.60 386.94,252.58 387.82,253.57 388.71,254.58 389.60,255.59 390.49,256.63 391.38,257.67 392.26,258.73 393.15,259.80 394.04,260.88 394.92,261.97 395.81,263.07 396.70,264.17 397.59,265.29 398.47,266.41 399.36,267.54 400.25,268.67 401.14,269.80 402.02,270.94 402.91,272.08 403.80,273.22 404.69,274.35 405.57,275.49 406.46,276.63 407.35,277.76 408.24,278.89 409.12,280.01 410.01,281.13 410.90,282.24" fill="none" stroke="#0000ff" stroke-width="1.5"/>
<path d="M304.40,215.49L307.00,220.09L301.80,220.09Z" fill="#00c800"/>
<path d="M346.78,207.70V230.97M344.88,207.70h3.8M344.88,230.97h3.8" stroke="#00c800" stroke-width="1.2" fill="none"/>
<path d="M346.78,216.58L349.38,221.18L344.18,221.18Z" fill="#00c800"/>
<path d="M357.47,217.92V233.15M355.57,217.92h3.8M355.57,233.15h3.8" stroke="#00c800" stroke-width="1.2" fill="none"/>
<path d="M357.47,222.78L360.07,227.38L354.87,227.38Z" fill="#00c800"/>
<path d="M368.15,223.91V234.78M366.25,223.91h3.8M366.25,234.78h3.8" stroke="#00c800" stroke-width="1.2" fill="none"/>
<path d="M368.15,226.58L370.75,231.18L365.55,231.18Z" fill="#00c800"/>
<path d="M378.84,220.75V236.63M376.94,220.75h3.8M376.94,236.63h3.8" stroke="#00c800" stroke-width="1.2" fill="none"/>
<path d="M378.84,225.93L381.44,230.53L376.24,230.53Z" fill="#00c800"/>
<path d="M389.53,220.10V239.67M387.63,220.10h3.8M387.63,239.67h3.8" stroke="#00c800" stroke-width="1.2" fill="none"/>
<path d="M389.53,227.13L392.13,231.73L386.93,231.73Z" fill="#00c800"/>
<path d="M400.21,270.23V274.58M398.31,270.23h3.8M398.31,274.58h3.8" stroke="#00c800" stroke-width="1.2" fill="none"/>
<path d="M400.21,269.65L402.81,274.25L397.61,274.25Z" fill="#00c800"/>
<path d="M410.90,311.23V313.41M409.00,311.23h3.8M409.00,313.41h3.8" stroke="#00c800" stroke-width="1.2" fill="none"/>
<path d="M410.90,309.56L413.50,314.16L408.30,314.16Z" fill="#00c800"/>
<rect x="302.30" y="216.15" width="4.2" height="4.2" fill="#ff0000"/>
<path d="M346.78,218.90V236.30M344.88,218.90h3.8M344.88,236.30h3.8" stroke="#ff0000" stroke-width="1.2" fill="none"/>
<rect x="344.68" y="225.50" width="4.2" height="4.2" fill="#ff0000"/>
<path d="M357.47,239.13V247.83M355.57,239.13h3.8M355.57,247.83h3.8" stroke="#ff0000" stroke-width="1.2" fill="none"/>
<rect x="355.37" y="241.38" width="4.2" height="4.2" fill="#ff0000"/>
<path d="M368.15,241.31V252.18M366.25,241.31h3.8M366.25,252.18h3.8" stroke="#ff0000" stroke-width="1.2" fill="none"/>
<rect x="366.05" y="244.64" width="4.2" height="4.2" fill="#ff0000"/>
<path d="M378.84,247.29V251.64M376.94,247.29h3.8M376.94,251.64h3.8" stroke="#ff0000" stroke-width="1.2" fill="none"/>
<rect x="376.74" y="247.36" width="4.2" height="4.2" fill="#ff0000"/>
<path d="M389.53,244.89V253.59M387.63,244.89h3.8M387.63,253.59h3.8" stroke="#ff0000" stroke-width="1.2" fill="none"/>
<rect x="387.43" y="247.14" width="4.2" height="4.2" fill="#ff0000"/>
<path d="M400.21,252.94V262.73M398.31,252.94h3.8M398.31,262.73h3.8" stroke="#ff0000" stroke-width="1.2" fill="none"/>
<rect x="398.11" y="255.74" width="4.2" height="4.2" fill="#ff0000"/>
<path d="M410.90,292.53V295.79M409.00,292.53h3.8M409.00,295.79h3.8" stroke="#ff0000" stroke-width="1.2" fill="none"/>
<rect x="408.80" y="292.06" width="4.2" height="4.2" fill="#ff0000"/>
<circle cx="304.40" cy="218.25" r="2.3" fill="#0000ff"/>
<path d="M346.78,223.36V228.80M344.88,223.36h3.8M344.88,228.80h3.8" stroke="#0000ff" stroke-width="1.2" fill="none"/>
<circle cx="346.78" cy="226.08" r="2.3" fill="#0000ff"/>
<path d="M357.47,231.74V240.44M355.57,231.74h3.8M355.57,240.44h3.8" stroke="#0000ff" stroke-width="1.2" fill="none"/>
<circle cx="357.47" cy="236.09" r="2.3" fill="#0000ff"/>
<path d="M368.15,244.57V253.27M366.25,244.57h3.8M366.25,253.27h3.8" stroke="#0000ff" stroke-width="1.2" fill="none"/>
<circle cx="368.15" cy="248.92" r="2.3" fill="#0000ff"/>
<path d="M378.84,239.13V247.83M376.94,239.13h3.8M376.94,247.83h3.8" stroke="#0000ff" stroke-width="1.2" fill="none"/>
<circle cx="378.84" cy="243.48" r="2.3" fill="#0000ff"/>
<path d="M389.53,231.08V248.48M387.63,231.08h3.8M387.63,248.48h3.8" stroke="#0000ff" stroke-width="1.2" fill="none"/>
<circle cx="389.53" cy="239.78" r="2.3" fill="#0000ff"/>
<path d="M400.21,251.96V258.49M398.31,251.96h3.8M398.31,258.49h3.8" stroke="#0000ff" stroke-width="1.2" fill="none"/>
<circle cx="400.21" cy="255.23" r="2.3" fill="#0000ff"/>
<path d="M410.90,298.07V304.60M409.00,298.07h3.8M409.00,304.60h3.8" stroke="#0000ff" stroke-width="1.2" fill="none"/>
<circle cx="410.90" cy="301.33" r="2.3" fill="#0000ff"/>
<line x1="454.20" y1="218.20" x2="464.20" y2="218.20" stroke="#0000ff" stroke-width="1.4"/>
<circle cx="459.20" cy="218.20" r="2.3" fill="#0000ff"/>
<text x="470.00" y="220.50" class="lg" textLength="46.2" lengthAdjust="spacingAndGlyphs">MDA-MB-231</text>
<line x1="454.20" y1="228.90" x2="464.20" y2="228.90" stroke="#ff0000" stroke-width="1.4"/>
<rect x="457.10" y="226.80" width="4.2" height="4.2" fill="#ff0000"/>
<text x="470.00" y="231.20" class="lg" textLength="17.9" lengthAdjust="spacingAndGlyphs">A549</text>
<line x1="454.20" y1="239.60" x2="464.20" y2="239.60" stroke="#00c800" stroke-width="1.4"/>
<path d="M459.20,236.84L461.80,241.44L456.60,241.44Z" fill="#00c800"/>
<text x="470.00" y="241.90" class="lg" textLength="24.1" lengthAdjust="spacingAndGlyphs">A375M</text>
<line x1="171.70" y1="460.90" x2="313.50" y2="460.90" stroke="#8a8a8a" stroke-width="1.3" stroke-dasharray="2.6,2.12"/>
<path d="M168.50,384.60H171.50V515.40H313.50V518.40" fill="none" stroke="#555" stroke-width="1.5"/>
<path d="M168.50,515.40H171.50M169.90,504.50H171.50M168.50,493.60H171.50M169.90,482.70H171.50M168.50,471.80H171.50M169.90,460.90H171.50M168.50,450.00H171.50M169.90,439.10H171.50M168.50,428.20H171.50M169.90,417.30H171.50M168.50,406.40H171.50M169.90,395.50H171.50M168.50,384.60H171.50M171.50,515.40V518.40M178.60,515.40V517.00M185.70,515.40V517.00M192.80,515.40V517.00M199.90,515.40V517.00M207.00,515.40V518.40M214.10,515.40V517.00M221.20,515.40V517.00M228.30,515.40V517.00M235.40,515.40V517.00M242.50,515.40V518.40M249.60,515.40V517.00M256.70,515.40V517.00M263.80,515.40V517.00M270.90,515.40V517.00M278.00,515.40V518.40M285.10,515.40V517.00M292.20,515.40V517.00M299.30,515.40V517.00M306.40,515.40V517.00M313.50,515.40V518.40" fill="none" stroke="#333333" stroke-width="1.1"/>
<text x="167.50" y="518.35" text-anchor="end" class="tk" textLength="4.91" lengthAdjust="spacingAndGlyphs">0</text>
<text x="167.50" y="496.55" text-anchor="end" class="tk" textLength="9.83" lengthAdjust="spacingAndGlyphs">20</text>
<text x="167.50" y="474.75" text-anchor="end" class="tk" textLength="9.83" lengthAdjust="spacingAndGlyphs">40</text>
<text x="167.50" y="452.95" text-anchor="end" class="tk" textLength="9.83" lengthAdjust="spacingAndGlyphs">60</text>
<text x="167.50" y="431.15" text-anchor="end" class="tk" textLength="9.83" lengthAdjust="spacingAndGlyphs">80</text>
<text x="167.50" y="409.35" text-anchor="end" class="tk" textLength="14.74" lengthAdjust="spacingAndGlyphs">100</text>
<text x="167.50" y="387.55" text-anchor="end" class="tk" textLength="14.74" lengthAdjust="spacingAndGlyphs">120</text>
<text x="171.50" y="527.30" text-anchor="middle" class="tk" textLength="17.19" lengthAdjust="spacingAndGlyphs">0.01</text>
<text x="207.00" y="527.30" text-anchor="middle" class="tk" textLength="12.28" lengthAdjust="spacingAndGlyphs">0.1</text>
<text x="242.50" y="527.30" text-anchor="middle" class="tk" textLength="4.91" lengthAdjust="spacingAndGlyphs">1</text>
<text x="278.00" y="527.30" text-anchor="middle" class="tk" textLength="9.83" lengthAdjust="spacingAndGlyphs">10</text>
<text x="313.50" y="527.30" text-anchor="middle" class="tk" textLength="14.74" lengthAdjust="spacingAndGlyphs">100</text>
<text x="242.50" y="541.80" text-anchor="middle" class="xt" textLength="93.52" lengthAdjust="spacingAndGlyphs">DJ-Morpholine (µM)</text>
<text transform="translate(147.50,449.00) rotate(-90)" x="0" y="0" text-anchor="middle" class="tt" textLength="54.6" lengthAdjust="spacingAndGlyphs">Viability (%)</text>
<line x1="171.50" y1="423.51" x2="278.00" y2="423.51" stroke="#00c800" stroke-width="1.5"/>
<line x1="171.50" y1="421.55" x2="278.00" y2="421.55" stroke="#ff0000" stroke-width="1.5"/>
<line x1="171.50" y1="432.01" x2="278.00" y2="432.01" stroke="#0000ff" stroke-width="1.5"/>
<path d="M171.50,403.64L174.10,408.24L168.90,408.24Z" fill="#00c800"/>
<path d="M213.88,408.58V415.12M211.98,408.58h3.8M211.98,415.12h3.8" stroke="#00c800" stroke-width="1.2" fill="none"/>
<path d="M213.88,409.09L216.48,413.69L211.28,413.69Z" fill="#00c800"/>
<path d="M224.57,417.95V426.67M222.67,417.95h3.8M222.67,426.67h3.8" stroke="#00c800" stroke-width="1.2" fill="none"/>
<path d="M224.57,419.55L227.17,424.15L221.97,424.15Z" fill="#00c800"/>
<path d="M235.25,420.57V429.29M233.35,420.57h3.8M233.35,429.29h3.8" stroke="#00c800" stroke-width="1.2" fill="none"/>
<path d="M235.25,422.17L237.85,426.77L232.65,426.77Z" fill="#00c800"/>
<path d="M245.94,422.75V431.47M244.04,422.75h3.8M244.04,431.47h3.8" stroke="#00c800" stroke-width="1.2" fill="none"/>
<path d="M245.94,424.35L248.54,428.95L243.34,428.95Z" fill="#00c800"/>
<path d="M256.63,420.24V428.96M254.73,420.24h3.8M254.73,428.96h3.8" stroke="#00c800" stroke-width="1.2" fill="none"/>
<path d="M256.63,421.84L259.23,426.44L254.03,426.44Z" fill="#00c800"/>
<path d="M267.31,421.44V430.16M265.41,421.44h3.8M265.41,430.16h3.8" stroke="#00c800" stroke-width="1.2" fill="none"/>
<path d="M267.31,423.04L269.91,427.64L264.71,427.64Z" fill="#00c800"/>
<path d="M278.00,436.92V443.46M276.10,436.92h3.8M276.10,443.46h3.8" stroke="#00c800" stroke-width="1.2" fill="none"/>
<path d="M278.00,437.43L280.60,442.03L275.40,442.03Z" fill="#00c800"/>
<rect x="169.40" y="404.30" width="4.2" height="4.2" fill="#ff0000"/>
<path d="M213.88,401.28V413.27M211.98,401.28h3.8M211.98,413.27h3.8" stroke="#ff0000" stroke-width="1.2" fill="none"/>
<rect x="211.78" y="405.17" width="4.2" height="4.2" fill="#ff0000"/>
<path d="M224.57,404.66V430.82M222.67,404.66h3.8M222.67,430.82h3.8" stroke="#ff0000" stroke-width="1.2" fill="none"/>
<rect x="222.47" y="415.64" width="4.2" height="4.2" fill="#ff0000"/>
<path d="M235.25,413.70V439.21M233.35,413.70h3.8M233.35,439.21h3.8" stroke="#ff0000" stroke-width="1.2" fill="none"/>
<rect x="233.15" y="424.36" width="4.2" height="4.2" fill="#ff0000"/>
<path d="M245.94,421.66V439.10M244.04,421.66h3.8M244.04,439.10h3.8" stroke="#ff0000" stroke-width="1.2" fill="none"/>
<rect x="243.84" y="428.28" width="4.2" height="4.2" fill="#ff0000"/>
<path d="M256.63,425.69V436.59M254.73,425.69h3.8M254.73,436.59h3.8" stroke="#ff0000" stroke-width="1.2" fill="none"/>
<rect x="254.53" y="429.04" width="4.2" height="4.2" fill="#ff0000"/>
<path d="M267.31,422.64V433.54M265.41,422.64h3.8M265.41,433.54h3.8" stroke="#ff0000" stroke-width="1.2" fill="none"/>
<rect x="265.21" y="425.99" width="4.2" height="4.2" fill="#ff0000"/>
<path d="M278.00,406.07V440.95M276.10,406.07h3.8M276.10,440.95h3.8" stroke="#ff0000" stroke-width="1.2" fill="none"/>
<rect x="275.90" y="421.41" width="4.2" height="4.2" fill="#ff0000"/>
<circle cx="171.50" cy="406.40" r="2.3" fill="#0000ff"/>
<path d="M213.88,415.99V436.70M211.98,415.99h3.8M211.98,436.70h3.8" stroke="#0000ff" stroke-width="1.2" fill="none"/>
<circle cx="213.88" cy="426.35" r="2.3" fill="#0000ff"/>
<path d="M224.57,430.27V439.64M222.67,430.27h3.8M222.67,439.64h3.8" stroke="#0000ff" stroke-width="1.2" fill="none"/>
<circle cx="224.57" cy="434.96" r="2.3" fill="#0000ff"/>
<path d="M235.25,432.23V451.85M233.35,432.23h3.8M233.35,451.85h3.8" stroke="#0000ff" stroke-width="1.2" fill="none"/>
<circle cx="235.25" cy="442.04" r="2.3" fill="#0000ff"/>
<path d="M245.94,433.54V448.15M244.04,433.54h3.8M244.04,448.15h3.8" stroke="#0000ff" stroke-width="1.2" fill="none"/>
<circle cx="245.94" cy="440.84" r="2.3" fill="#0000ff"/>
<path d="M256.63,432.12V449.56M254.73,432.12h3.8M254.73,449.56h3.8" stroke="#0000ff" stroke-width="1.2" fill="none"/>
<circle cx="256.63" cy="440.84" r="2.3" fill="#0000ff"/>
<path d="M267.31,428.31V437.03M265.41,428.31h3.8M265.41,437.03h3.8" stroke="#0000ff" stroke-width="1.2" fill="none"/>
<circle cx="267.31" cy="432.67" r="2.3" fill="#0000ff"/>
<path d="M278.00,426.13V439.21M276.10,426.13h3.8M276.10,439.21h3.8" stroke="#0000ff" stroke-width="1.2" fill="none"/>
<circle cx="278.00" cy="432.67" r="2.3" fill="#0000ff"/>
<line x1="321.60" y1="406.20" x2="331.60" y2="406.20" stroke="#0000ff" stroke-width="1.4"/>
<circle cx="326.60" cy="406.20" r="2.3" fill="#0000ff"/>
<text x="337.40" y="408.50" class="lg" textLength="46.2" lengthAdjust="spacingAndGlyphs">MDA-MB-231</text>
<line x1="321.60" y1="416.90" x2="331.60" y2="416.90" stroke="#ff0000" stroke-width="1.4"/>
<rect x="324.50" y="414.80" width="4.2" height="4.2" fill="#ff0000"/>
<text x="337.40" y="419.20" class="lg" textLength="17.9" lengthAdjust="spacingAndGlyphs">A549</text>
<line x1="321.60" y1="427.60" x2="331.60" y2="427.60" stroke="#00c800" stroke-width="1.4"/>
<path d="M326.60,424.84L329.20,429.44L324.00,429.44Z" fill="#00c800"/>
<text x="337.40" y="429.90" class="lg" textLength="24.1" lengthAdjust="spacingAndGlyphs">A375M</text>
</svg>
</body></html>
